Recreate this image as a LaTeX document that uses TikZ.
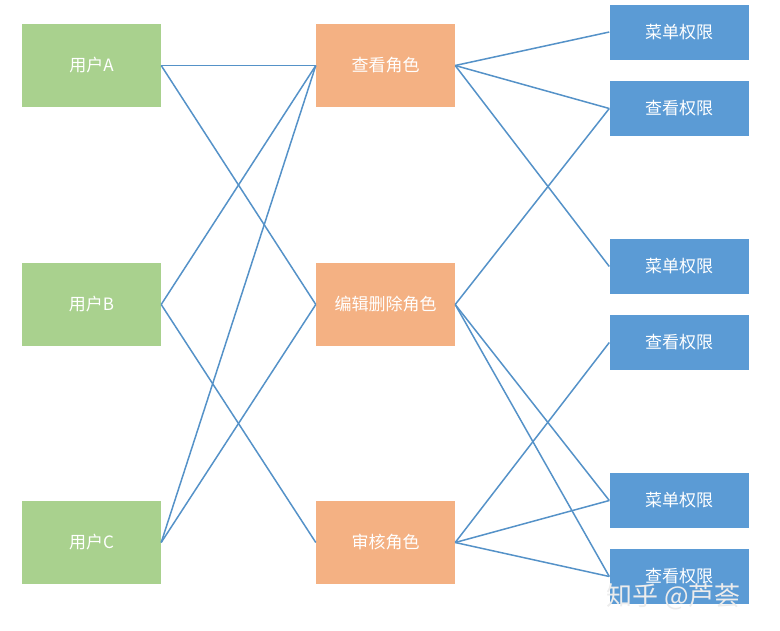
\documentclass[tikz,border=0pt]{standalone}
\usepackage{fontspec}
\setmainfont{Noto Sans CJK SC}
\definecolor{gr}{HTML}{A9D18E}
\definecolor{orr}{HTML}{F4B183}
\definecolor{bl}{HTML}{5B9BD5}
\definecolor{ln}{HTML}{5592C8}
\begin{document}
\begin{tikzpicture}[x=1pt,y=-1pt,
 box/.style={minimum width=139pt,minimum height=83pt,inner sep=0pt,text=white,font=\fontsize{17}{20}\selectfont},
 pbox/.style={minimum width=139pt,minimum height=55pt,inner sep=0pt,fill=bl,text=white,font=\fontsize{17}{20}\selectfont},
 conn/.style={draw=ln,line width=1.5pt}]
\useasboundingbox (0,0) rectangle (780,630);
\node[box,fill=gr] (ua) at (91.5,65.5) {用户A};
\node[box,fill=gr] (ub) at (91.5,304.5) {用户B};
\node[box,fill=gr] (uc) at (91.5,542.5) {用户C};
\node[box,fill=orr] (r1) at (385.5,65.5) {查看角色};
\node[box,fill=orr] (r2) at (385.5,304.5) {编辑删除角色};
\node[box,fill=orr] (r3) at (385.5,542.5) {审核角色};
\node[pbox] (p1) at (679,32) {菜单权限};
\node[pbox] (p2) at (679,108.5) {查看权限};
\node[pbox] (p3) at (679,266.5) {菜单权限};
\node[pbox] (p4) at (679,342.5) {查看权限};
\node[pbox] (p5) at (679,500.5) {菜单权限};
\node[pbox] (p6) at (679,576.5) {查看权限};
\foreach \a/\b in {ua/r1,ua/r2,ub/r1,ub/r3,uc/r1,uc/r2}
  \draw[conn] (\a.east) -- (\b.west);
\foreach \a/\b in {r1/p1,r1/p2,r1/p3,r2/p2,r2/p5,r2/p6,r3/p4,r3/p5,r3/p6}
  \draw[conn] (\a.east) -- (\b.west);
\node[text=white!85!gray,font=\fontsize{26}{30}\selectfont,anchor=west,inner sep=0pt] (wm) at (606,597) {知乎 @芦荟};
\end{tikzpicture}
\end{document}
